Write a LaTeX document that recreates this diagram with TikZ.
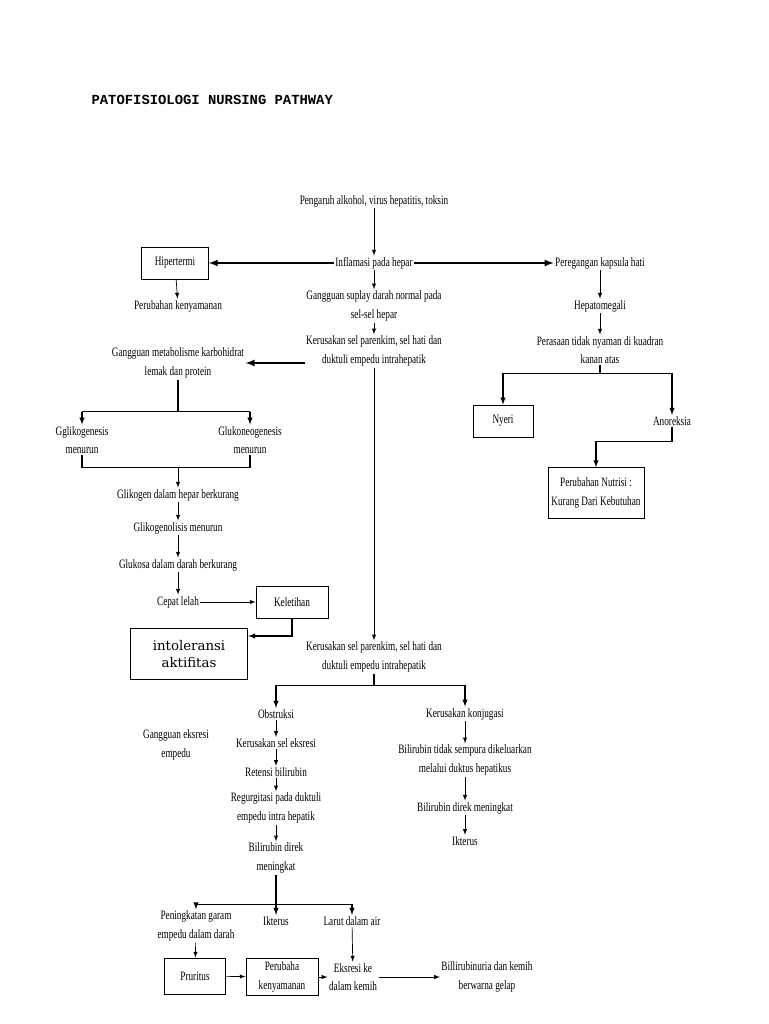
\documentclass[tikz,border=0pt]{standalone}
\usepackage{fontspec}
\setmainfont{Liberation Serif}[FakeStretch=0.72]
\newfontfamily\titlefont{Liberation Mono}
\newfontfamily\boxfont{DejaVu Serif}
\usetikzlibrary{arrows}

\begin{document}
\begin{tikzpicture}[x=0.75pt,y=-0.75pt,
    every node/.style={font=\fontsize{9.6}{14}\selectfont, align=center, inner sep=1pt},
    box/.style={draw, line width=0.7pt, minimum height=24pt},
    arr/.style={-latex, line width=0.5pt},
    barr/.style={-latex, line width=1.3pt},
    ln/.style={line width=0.8pt}]
    \useasboundingbox (0,0) rectangle (768,1024);

    % title
    \node (title) [anchor=west, font=\titlefont\bfseries\fontsize{10.4}{12}\selectfont] at (90,100) {PATOFISIOLOGI NURSING PATHWAY};

    % middle column
    \node (src) at (374,201) {Pengaruh alkohol, virus hepatitis, toksin};
    \node (infl) at (374,263) {Inflamasi pada hepar};
    \node (suplay) at (374,306) {Gangguan suplay darah normal pada\\sel-sel hepar};
    \node (rusak1) at (374,351) {Kerusakan sel parenkim, sel hati dan\\duktuli empedu intrahepatik};
    \node (rusak2) at (374,657) {Kerusakan sel parenkim, sel hati dan\\duktuli empedu intrahepatik};

    % left top
    \node (hiper) [box, minimum width=50pt] at (175,263) {Hipertermi};
    \node (nyaman1) at (178,306) {Perubahan kenyamanan};
    \node (metab) at (178,363) {Gangguan metabolisme karbohidrat\\lemak dan protein};
    \node (gliko) at (82,440) {Gglikogenesis\\menurun};
    \node (gluko) at (250,440) {Glukoneogenesis\\menurun};
    \node (glikogen) at (178,495) {Glikogen dalam hepar berkurang};
    \node (lisis) at (178,528) {Glikogenolisis menurun};
    \node (glukosa) at (178,565) {Glukosa dalam darah berkurang};
    \node (lelah) at (178,602) {Cepat lelah};
    \node (letih) [box, minimum width=54pt] at (292,602) {Keletihan};
    \node (intol) [box, minimum width=88pt, minimum height=38pt, font=\boxfont\fontsize{10}{13}\selectfont] at (189,654) {intoleransi\\aktifitas};

    % right top
    \node (kapsul) at (600,263) {Peregangan kapsula hati};
    \node (hepato) at (600,306) {Hepatomegali};
    \node (kuadran) at (600,350) {Perasaan tidak nyaman di kuadran\\kanan atas};
    \node (nyeri) [box, minimum width=45pt] at (503,421) {Nyeri};
    \node (anor) at (672,421) {Anoreksia};
    \node (nutrisi) [box, minimum width=72pt, minimum height=38pt] at (596,493) {Perubahan Nutrisi :\\Kurang Dari Kebutuhan};

    % lower part
    \node (ekskret) at (176,745) {Gangguan eksresi\\empedu};
    \node (obst) at (276,714) {Obstruksi};
    \node (selek) at (276,743) {Kerusakan sel eksresi};
    \node (retensi) at (276,772) {Retensi bilirubin};
    \node (regurg) at (276,808) {Regurgitasi pada duktuli\\empedu intra hepatik};
    \node (direk1) at (276,858) {Bilirubin direk\\meningkat};
    \node (konj) at (465,714) {Kerusakan konjugasi};
    \node (sempura) at (465,760) {Bilirubin tidak sempura dikeluarkan\\melalui duktus hepatikus};
    \node (direk2) at (465,808) {Bilirubin direk meningkat};
    \node (ikt2) at (465,841) {Ikterus};
    \node (garam) at (196,926) {Peningkatan garam\\empedu dalam darah};
    \node (ikt1) at (276,921) {Ikterus};
    \node (larut) at (352,921) {Larut dalam air};
    \node (prur) [box, minimum width=46pt, minimum height=27pt] at (195,976) {Pruritus};
    \node (nyaman2) [box, minimum width=54pt, minimum height=28pt] at (282,977) {Perubaha\\kenyamanan};
    \node (kemih) at (353,977) {Eksresi ke\\dalam kemih};
    \node (gelap) at (487,977) {Billirubinuria dan kemih\\berwarna gelap};

    % connectors
    \draw [arr] (src) -- (infl);
    \draw [arr] (infl) -- (suplay);
    \draw [arr] (suplay) -- (rusak1);
    \draw [arr] (rusak1) -- (rusak2);
    \draw [barr] (infl) -- (hiper);
    \draw [barr] (infl) -- (kapsul);
    \draw [arr] (hiper) -- (nyaman1);
    \draw [barr] (rusak1.west |- metab) -- (metab);
    \draw [ln] (metab.south) -- ++(0,32) coordinate (m1);
    \draw [arr, ln] (gliko.north |- m1) -- (gluko.north |- m1) (gliko.north |- m1) -- (gliko.north);
    \draw [arr, ln] (gluko.north |- m1) -- (gluko.north);
    \draw [ln] (gliko.south) -- ++(0,12) coordinate (m2) -- (gluko.south |- m2) -- (gluko.south);
    \draw [arr] (glikogen.north |- m2) -- (glikogen);
    \draw [arr] (glikogen) -- (lisis);
    \draw [arr] (lisis) -- (glukosa);
    \draw [arr] (glukosa) -- (lelah);
    \draw [arr] (lelah) -- (letih);
    \draw [arr, ln] (letih.south) |- (intol.east |- 0,636);

    \draw [arr] (kapsul) -- (hepato);
    \draw [arr] (hepato) -- (kuadran);
    \draw [ln] (kuadran.south) -- ++(0,8) coordinate (k1);
    \draw [arr, ln] (k1) -| (nyeri.north);
    \draw [arr, ln] (k1) -| (anor.north);
    \draw [arr, ln] (anor.south) |- ++(-76,14) coordinate (a1) -- (nutrisi.north -| a1);

    \draw [ln] (rusak2.south) -- ++(0,12) coordinate (r1);
    \draw [arr, ln] (r1) -| (obst.north);
    \draw [arr, ln] (r1) -| (konj.north);
    \draw [arr] (obst) -- (selek);
    \draw [arr] (selek) -- (retensi);
    \draw [arr] (retensi) -- (regurg);
    \draw [arr] (regurg) -- (direk1);
    \draw [arr] (konj) -- (sempura);
    \draw [arr] (sempura) -- (direk2);
    \draw [arr] (direk2) -- (ikt2);
    \draw [ln] (direk1.south) -- ++(0,30) coordinate (d1);
    \draw [arr, ln] (d1) -- (ikt1);
    \draw [arr, ln] (d1) -| (garam.north);
    \draw [arr, ln] (d1) -| (larut.north);
    \draw [arr] (garam) -- (prur);
    \draw [arr] (larut) -- (kemih);
    \draw [arr] (prur) -- (nyaman2);
    \draw [arr] (nyaman2) -- (kemih);
    \draw [arr] (kemih) -- (gelap);
\end{tikzpicture}
\end{document}
